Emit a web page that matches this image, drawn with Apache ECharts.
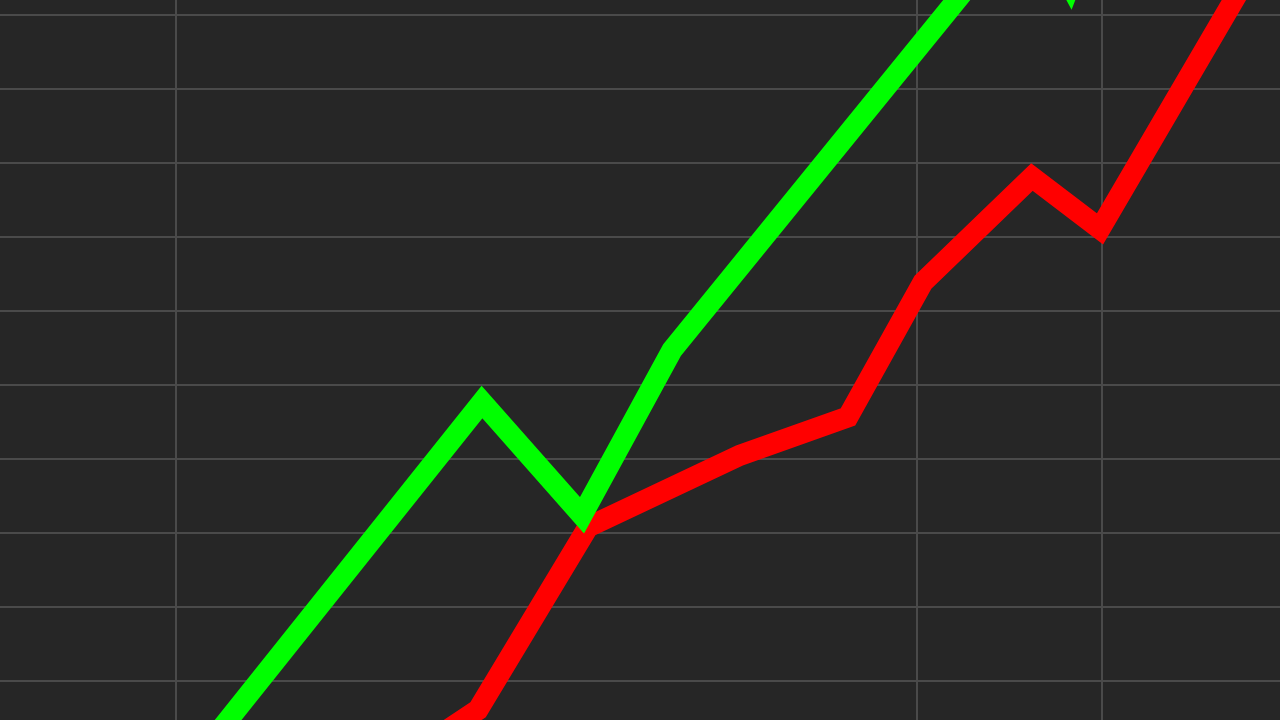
<!DOCTYPE html>
<html>
<head>
<meta charset="utf-8">
<script src="https://cdn.jsdelivr.net/npm/echarts@6/dist/echarts.min.js"></script>
<style>
html,body{margin:0;padding:0;background:#262626;overflow:hidden;width:1280px;height:720px;}
#chart{position:absolute;left:0;top:-59px;width:1280px;height:814px;}
</style>
</head>
<body>
<div id="chart"></div>
<script>
// x positions (time units) and values for each series
const greenX = [19.6, 48.2, 58.2, 67.2, 103.0, 107.0, 111.0];
const greenY = [-10.7, 37.7, 22.4, 44.7, 104.2, 94.1, 108.2];
const redX = [41.0, 47.8, 58.8, 74.0, 84.8, 92.3, 103.2, 110.0, 129.0];
const redY = [-10.0, -3.9, 20.8, 30.5, 35.7, 53.9, 68.1, 61.1, 105.0];
// vertical reference lines (x positions)
const verticalLines = [17.6, 91.7, 110.2];
// y tick range
const yMin = -10, yMax = 100, yStep = 10;
const xMin = 0, xMax = 128;

const pair = (xs, ys) => xs.map((x, i) => [x, ys[i]]);

const chart = echarts.init(document.getElementById('chart'));
chart.setOption({
  backgroundColor: '#262626',
  animation: false,
  grid: { left: 0, right: 0, top: 0, bottom: 0, containLabel: false },
  xAxis: {
    type: 'value', min: xMin, max: xMax,
    axisLine: { show: false }, axisTick: { show: false }, axisLabel: { show: false },
    splitLine: { show: false }
  },
  yAxis: {
    type: 'value', min: yMin, max: yMax, interval: yStep,
    axisLine: { show: false }, axisTick: { show: false }, axisLabel: { show: false },
    splitLine: { show: true, lineStyle: { color: '#4a4a4a', width: 2 } }
  },
  series: [
    {
      type: 'line', data: [], z: 0, silent: true,
      markLine: {
        z: 0, silent: true, symbol: 'none', label: { show: false },
        lineStyle: { color: '#4a4a4a', width: 2, type: 'solid' },
        data: verticalLines.map(v => ({ xAxis: v }))
      }
    },
    {
      type: 'line', data: pair(redX, redY), symbol: 'none', z: 5,
      lineStyle: { color: '#ff0000', width: 21, join: 'miter', miterLimit: 10 }
    },
    {
      type: 'line', data: pair(greenX, greenY), symbol: 'none', z: 6,
      lineStyle: { color: '#00ff00', width: 21, join: 'miter', miterLimit: 10 }
    }
  ]
});
</script>
</body>
</html>
